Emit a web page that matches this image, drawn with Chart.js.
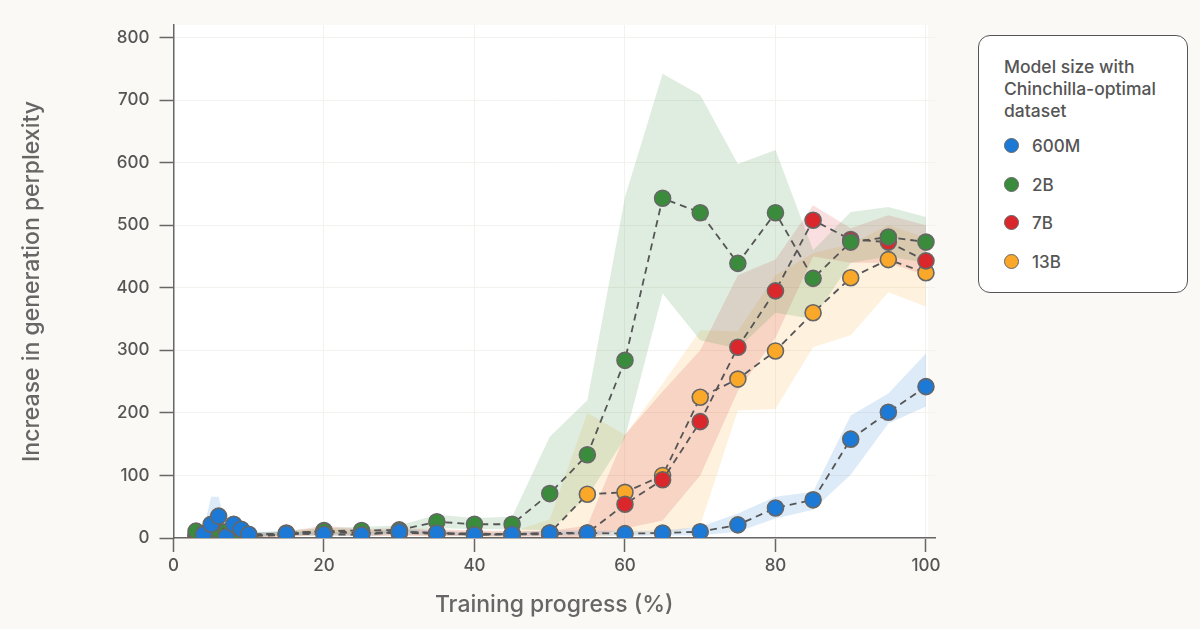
<!DOCTYPE html>
<html>
<head>
<meta charset="utf-8">
<script src="https://cdn.jsdelivr.net/npm/chart.js@4.4.1/dist/chart.umd.min.js"></script>
<style>
html,body{margin:0;padding:0;background:#faf9f5;}
#wrap{position:relative;width:1200px;height:629px;overflow:hidden;}
#c{position:absolute;left:0;top:0;}
#legend{position:absolute;left:978px;top:35px;width:210px;height:258px;border:1.5px solid #555;border-radius:12px;background:#fff;box-sizing:border-box;font-family:Inter,"Open Sans",sans-serif;color:#555;}
#legend .t{position:absolute;left:25px;top:20px;font-size:17.5px;line-height:22px;font-weight:500;white-space:nowrap;}
#legend .it{position:absolute;left:25px;height:20px;font-size:17px;font-weight:500;line-height:20px;}
#legend .dot{position:absolute;left:0;top:2px;width:13px;height:13px;border-radius:50%;border:1.5px solid #666;}
#legend .lb{position:absolute;left:28px;top:0;white-space:nowrap;}
</style>
</head>
<body>
<div id="wrap">
<canvas id="c" width="1200" height="629"></canvas>
<div id="legend"></div>
</div>
<script>
// ---- data ----
const progress = [3,4,5,6,7,8,9,10,15,20,25,30,35,40,45,50,55,60,65,70,75,80,85,90,95,100];

const m600   = [null,6,22,35,2,22,14,6,7,6,5,10,8,5,6,8,8,7,8,10,21,48,61,158,201,242];
const m600Lo = [null,0,5,12,0,8,5,2,4,3,3,5,4,3,3,4,4,3,4,4,10,31,45,101,183,210];
const m600Hi = [null,14,66,66,15,32,22,10,10,9,8,14,12,8,9,12,12,11,12,18,39,66,74,196,231,295];

const m2b   = [11,7,6,12,10,8,6,4,8,11,12,13,26,22,22,71,133,284,543,520,439,520,415,473,481,473];
const m2bLo = [5,2,2,5,4,3,2,1,4,6,7,8,16,14,14,12,66,160,391,316,303,360,350,440,450,440];
const m2bHi = [18,14,12,20,18,14,10,8,12,16,18,20,37,32,34,162,220,545,742,708,598,620,460,521,529,513];

const m7b   = [5,5,6,7,5,6,5,4,6,12,8,10,8,7,6,6,8,54,93,186,305,395,508,477,473,443];
const m7bLo = [1,1,2,2,1,2,1,1,2,5,3,4,3,3,2,2,0,15,28,100,235,320,450,440,440,420];
const m7bHi = [10,9,11,12,9,10,9,8,10,20,14,16,14,12,11,11,20,165,234,300,420,445,532,495,516,500];

const m13b   = [4,4,5,5,4,5,4,3,5,10,7,8,7,6,6,8,70,73,100,225,254,299,360,416,445,424];
const m13bLo = [1,1,1,1,1,1,1,1,2,4,3,3,3,2,2,3,0,5,5,20,204,206,305,324,393,370];
const m13bHi = [8,8,9,9,8,9,8,7,9,16,12,13,12,11,10,30,200,165,247,332,330,420,455,470,500,480];

const seriesNames = ["600M","2B","7B","13B"];
const xTicks = [0,20,40,60,80,100];
const yTicks = [0,100,200,300,400,500,600,700,800];
const legendTitle = ["Model size with","Chinchilla-optimal","dataset"];
const xTitle = "Training progress (%)";
const yTitle = "Increase in generation perplexity";

// ---- styles ----
const colors = ["#1c79d6","#3a8c3c","#d9272c","#f9a82a"];
const bandColors = ["rgba(28,121,214,0.15)","rgba(58,140,60,0.16)","rgba(217,39,44,0.15)","rgba(249,168,42,0.15)"];
const series = [[m600,m600Lo,m600Hi],[m2b,m2bLo,m2bHi],[m7b,m7bLo,m7bHi],[m13b,m13bLo,m13bHi]];

const pts = arr => progress.map((x,i)=>({x:x,y:arr[i]}));
const datasets = [];
series.forEach((s,k)=>{
  datasets.push({label:seriesNames[k]+" lo",data:pts(s[1]),borderWidth:0,borderColor:"rgba(0,0,0,0)",pointRadius:0,fill:false,order:20+k,tension:0});
  datasets.push({label:seriesNames[k]+" hi",data:pts(s[2]),borderWidth:0,borderColor:"rgba(0,0,0,0)",pointRadius:0,fill:"-1",backgroundColor:bandColors[k],order:20+k,tension:0});
});
series.forEach((s,k)=>{
  datasets.push({label:seriesNames[k],data:pts(s[0]),borderColor:"#555",borderWidth:1.8,borderDash:[7,5],
    pointRadius:8,pointHoverRadius:8,pointBorderWidth:1.6,pointBorderColor:"#666",pointBackgroundColor:colors[k],
    backgroundColor:colors[k],fill:false,order:k,clip:0,tension:0});
});

const FONT = "Inter, 'Open Sans', sans-serif";

const bgPlugin = {
  id:"bg",
  beforeDraw(chart){
    const {ctx,chartArea,scales} = chart;
    ctx.save();
    ctx.fillStyle="#faf9f5";
    ctx.fillRect(0,0,chart.width,chart.height);
    ctx.fillStyle="#ffffff";
    const x0=chartArea.left, x1=scales.x.getPixelForValue(100)+2;
    ctx.fillRect(x0,chartArea.top,x1-x0,chartArea.bottom-chartArea.top);
    ctx.restore();
  }
};

new Chart(document.getElementById("c"),{
  type:"line",
  data:{datasets:datasets},
  options:{
    responsive:false,animation:false,
    layout:{padding:{top:25,right:265,bottom:0,left:0}},
    plugins:{legend:{display:false},tooltip:{enabled:false},title:{display:false}},
    scales:{
      x:{type:"linear",min:0,max:101.2,
        afterFit(s){s.height=91;},
        afterBuildTicks(s){s.ticks=xTicks.map(v=>({value:v}));},
        ticks:{color:"#555",font:{family:FONT,size:17,weight:"500"},padding:4,autoSkip:false,maxRotation:0},
        grid:{color:"#f4f2ee",lineWidth:1,tickColor:"#666",tickLength:14,tickWidth:1.5},
        border:{color:"#666",width:1.5},
        title:{display:true,text:xTitle,color:"#666",font:{family:FONT,size:23,weight:"500"},padding:{top:0,bottom:10}}
      },
      y:{type:"linear",min:0,max:820,
        afterFit(s){s.width=173.5;},
        afterBuildTicks(s){s.ticks=yTicks.map(v=>({value:v}));},
        ticks:{color:"#555",font:{family:FONT,size:17,weight:"500"},padding:10},
        grid:{color:"#f4f2ee",lineWidth:1,tickColor:"#666",tickLength:14,tickWidth:1.5},
        border:{color:"#666",width:1.5},
        title:{display:true,text:yTitle,color:"#666",font:{family:FONT,size:23,weight:"500"},padding:{top:18,bottom:0}}
      }
    }
  },
  plugins:[bgPlugin]
});

// legend
const lg=document.getElementById("legend");
const t=document.createElement("div");t.className="t";t.innerHTML=legendTitle.join("<br>");lg.appendChild(t);
seriesNames.forEach((n,k)=>{
  const it=document.createElement("div");it.className="it";it.style.top=(100+k*38.7)+"px";
  const d=document.createElement("div");d.className="dot";d.style.background=colors[k];
  const l=document.createElement("div");l.className="lb";l.textContent=n;
  it.appendChild(d);it.appendChild(l);lg.appendChild(it);
});
</script>
</body>
</html>
